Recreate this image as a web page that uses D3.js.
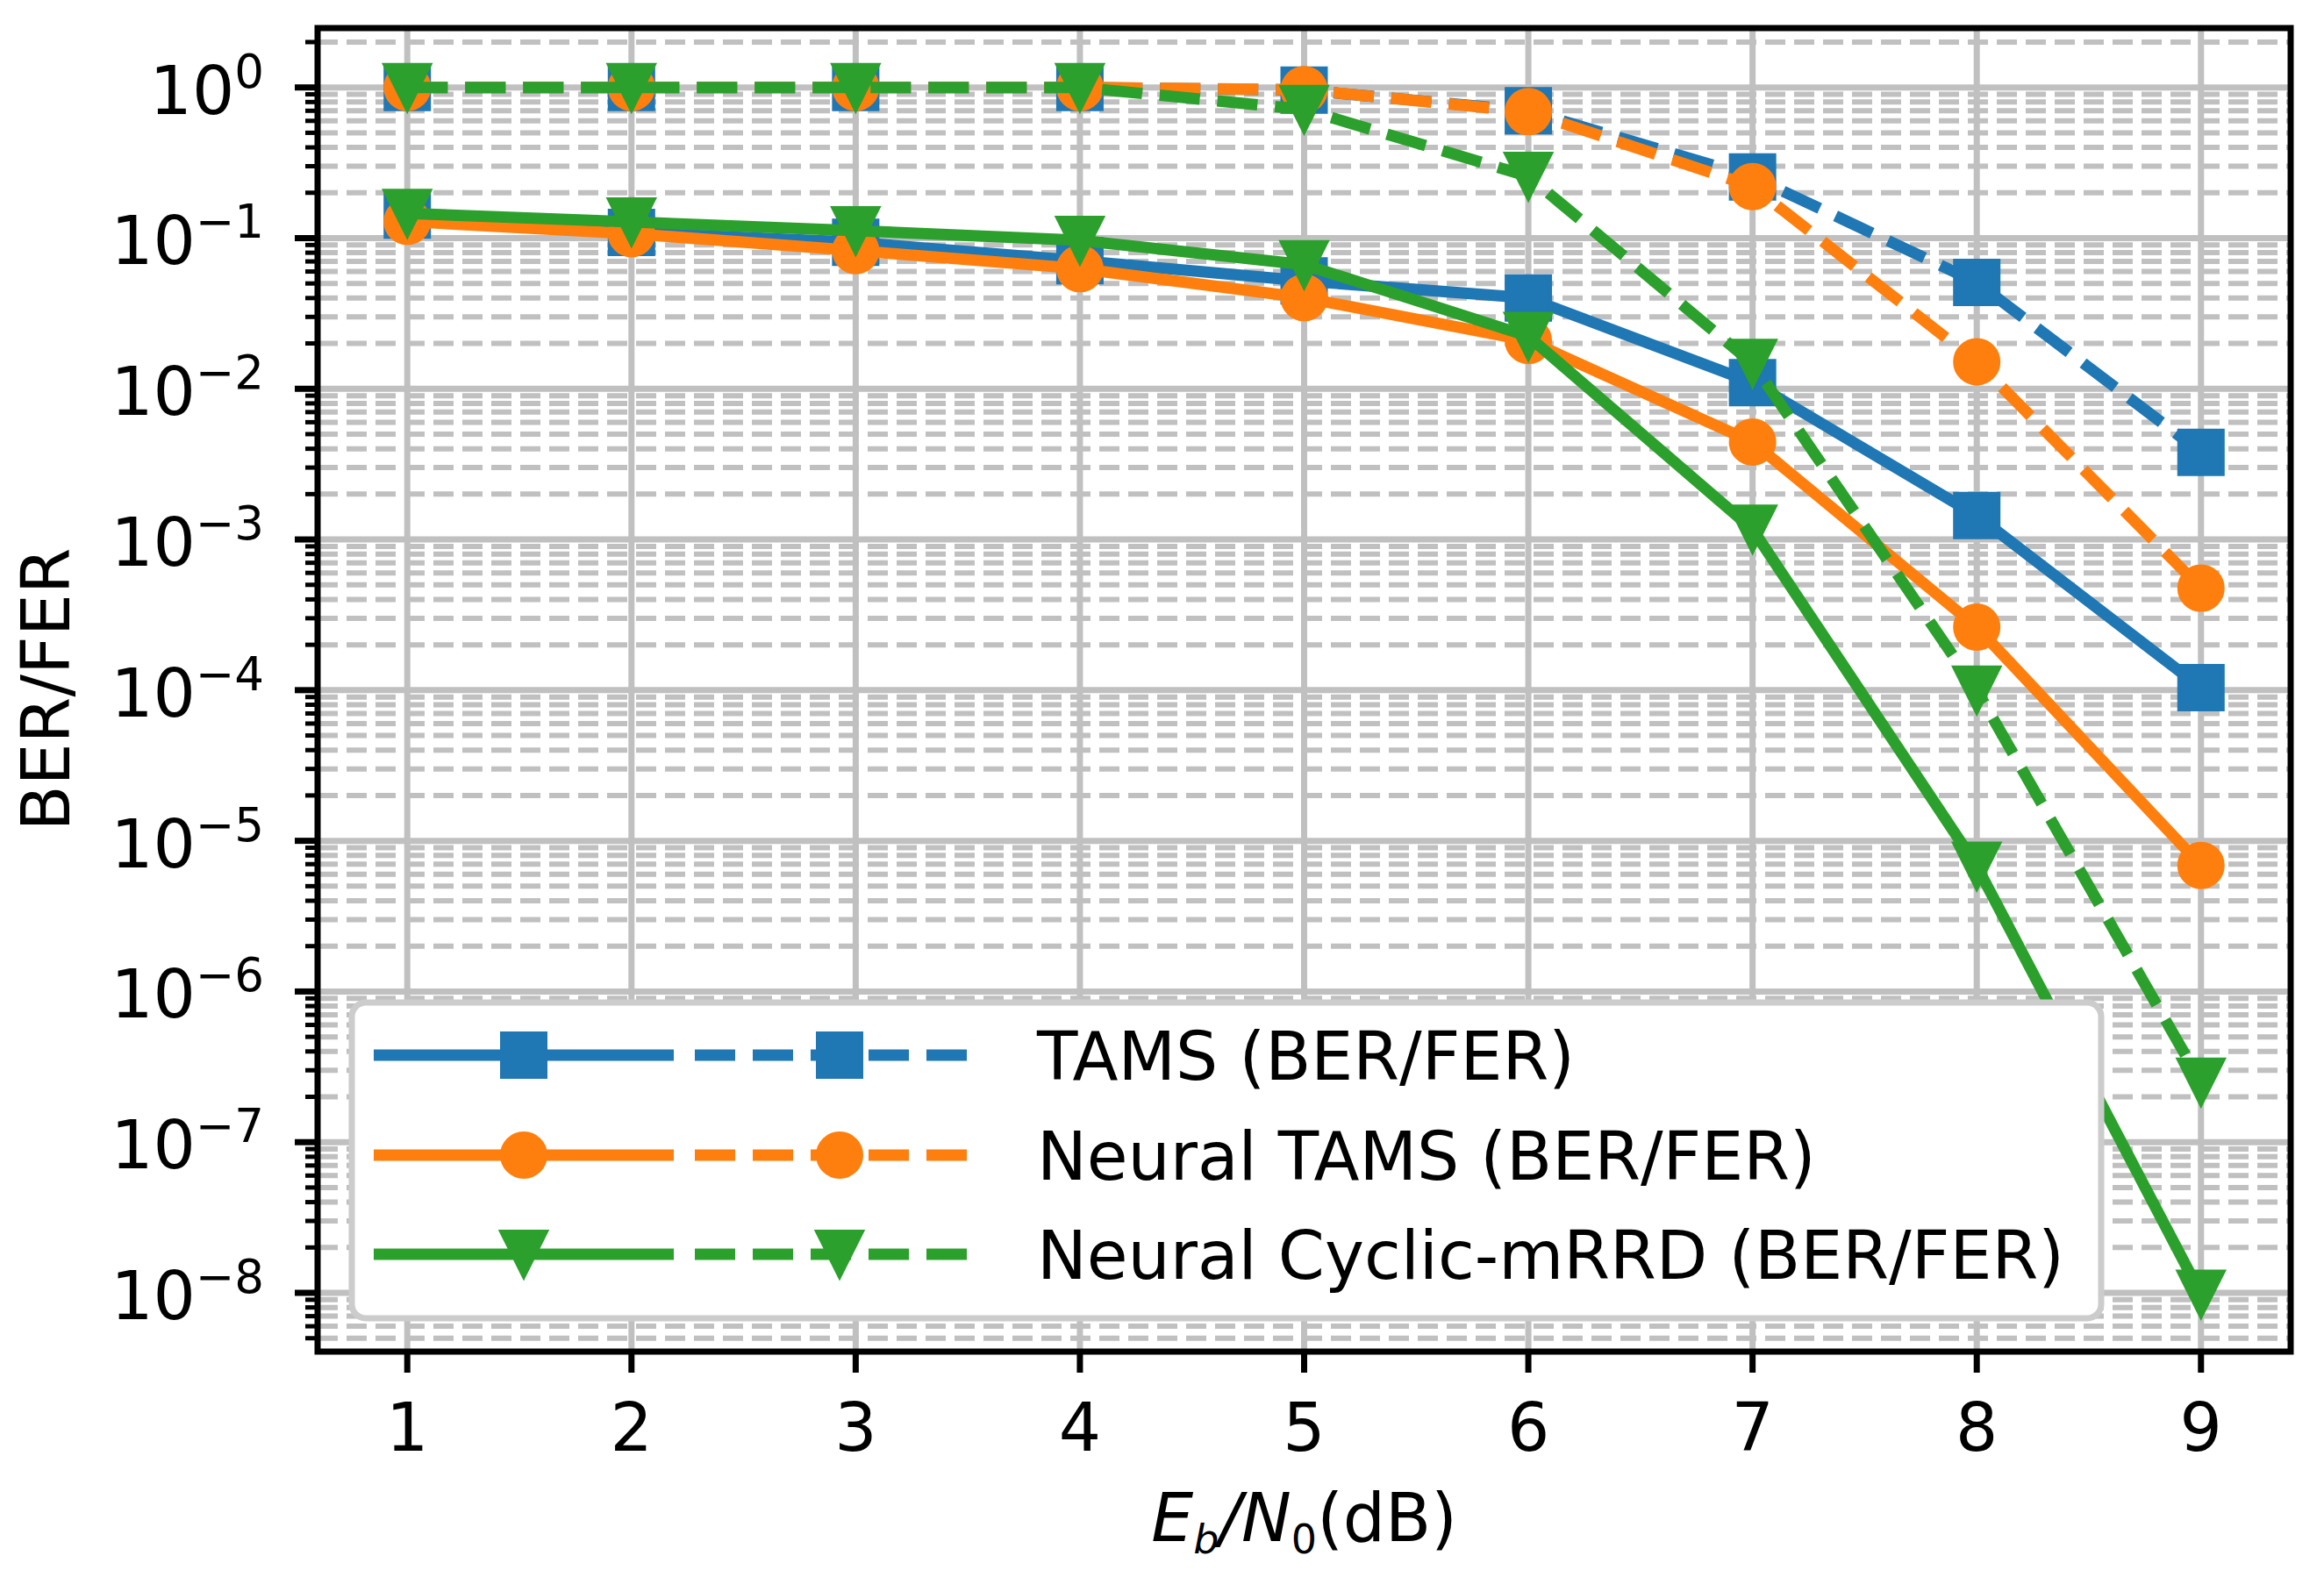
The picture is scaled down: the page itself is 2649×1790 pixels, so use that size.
<!DOCTYPE html>
<html>
<head>
<meta charset="utf-8">
<script src="https://cdnjs.cloudflare.com/ajax/libs/d3/7.8.5/d3.min.js"></script>
<style>
  body { margin: 0; background: #fff; }
  text { font-family: "DejaVu Sans", sans-serif; fill: #000; }
</style>
</head>
<body>
<div id="chart"></div>
<script>
const WIDTH = 2649;
const HEIGHT = 1790;
const LEFT = 362, RIGHT = 2611, TOP = 32, BOTTOM = 1541;
const LW = 13;

// data
var ebno = [1, 2, 3, 4, 5, 6, 7, 8, 9];
var tams_ber = [0.142, 0.109, 0.0937, 0.0707, 0.052, 0.040, 0.0110, 0.00144, 1.04e-4];
var tams_fer = [1.0, 1.0, 1.0, 1.0, 0.96, 0.70, 0.255, 0.0508, 0.00379];
var ntams_ber = [0.129, 0.107, 0.0826, 0.0627, 0.0402, 0.0209, 0.00443, 2.62e-4, 6.87e-6];
var ntams_fer = [1.0, 1.0, 1.0, 1.0, 0.965, 0.69, 0.22, 0.0151, 4.75e-4];
var cyc_ber = [0.146, 0.128, 0.112, 0.0967, 0.0667, 0.0223, 0.00117, 6.8e-6, 9.8e-9];
var cyc_fer = [1.0, 1.0, 1.0, 1.0, 0.715, 0.257, 0.01475, 1.0e-4, 2.5e-7];

var xTicks = [1, 2, 3, 4, 5, 6, 7, 8, 9];
var yTickExps = [0, -1, -2, -3, -4, -5, -6, -7, -8];
var legendLabels = ["TAMS (BER/FER)", "Neural TAMS (BER/FER)", "Neural Cyclic-mRRD (BER/FER)"];

var methods = [
  { ber: tams_ber, fer: tams_fer, color: "#1f77b4", marker: "square" },
  { ber: ntams_ber, fer: ntams_fer, color: "#ff7f0e", marker: "circle" },
  { ber: cyc_ber, fer: cyc_fer, color: "#2ca02c", marker: "triangle" }
];

var translate = function(x, y) { return "translate(" + x + "," + y + ")"; };

var markerPath = function(type) {
  if (type === "square") return "M-25,-25H25V25H-25Z";
  if (type === "circle") return "M25,0A25,25 0 1,1 -25,0A25,25 0 1,1 25,0Z";
  return "M-26,-26L26,-26L0,26Z";
};

var xScale = d3.scaleLinear().domain([0.6, 9.4]).range([LEFT, RIGHT]);
var yScale = d3.scaleLog().domain([Math.pow(10, -8.39), Math.pow(10, 0.394)]).range([BOTTOM, TOP]);

var svg = d3.select("#chart").append("svg")
  .attr("width", WIDTH).attr("height", HEIGHT);

// minor / major values on y
var minorVals = [];
for (var e = -9; e <= 0; e++)
  for (var m = 2; m <= 9; m++) {
    var v = m * Math.pow(10, e);
    if (v >= yScale.domain()[0] && v <= yScale.domain()[1]) minorVals.push(v);
  }
var majorVals = yTickExps.map(function(k) { return Math.pow(10, k); });

// grid
var grid = svg.append("g");
grid.selectAll(".minor").data(minorVals).enter().append("line")
  .attr("x1", LEFT).attr("x2", RIGHT)
  .attr("y1", function(d) { return yScale(d); }).attr("y2", function(d) { return yScale(d); })
  .attr("stroke", "#c0c0c0").attr("stroke-width", 6).attr("stroke-dasharray", "23,10");
grid.selectAll(".vmaj").data(xTicks).enter().append("line")
  .attr("x1", function(d) { return xScale(d); }).attr("x2", function(d) { return xScale(d); })
  .attr("y1", TOP).attr("y2", BOTTOM)
  .attr("stroke", "#c0c0c0").attr("stroke-width", 7);
grid.selectAll(".hmaj").data(majorVals).enter().append("line")
  .attr("x1", LEFT).attr("x2", RIGHT)
  .attr("y1", function(d) { return yScale(d); }).attr("y2", function(d) { return yScale(d); })
  .attr("stroke", "#c0c0c0").attr("stroke-width", 7);

// data
var line = d3.line()
  .x(function(d, i) { return xScale(ebno[i]); })
  .y(function(d) { return yScale(d); });

var plot = svg.append("g");
methods.forEach(function(mt) {
  [mt.ber, mt.fer].forEach(function(series, k) {
    plot.append("path")
      .attr("d", line(series))
      .attr("fill", "none")
      .attr("stroke", mt.color)
      .attr("stroke-width", LW)
      .attr("stroke-linejoin", "round")
      .attr("stroke-dasharray", k === 1 ? "46,20" : null);
    plot.selectAll(null).data(series).enter().append("path")
      .attr("d", markerPath(mt.marker))
      .attr("transform", function(d, i) { return translate(xScale(ebno[i]), yScale(d)); })
      .attr("fill", mt.color).attr("stroke", mt.color).attr("stroke-width", 4);
  });
});

// spines
svg.append("rect")
  .attr("x", LEFT).attr("y", TOP)
  .attr("width", RIGHT - LEFT).attr("height", BOTTOM - TOP)
  .attr("fill", "none").attr("stroke", "#000").attr("stroke-width", 7);

// y ticks
var axes = svg.append("g");
axes.selectAll(".ymin").data(minorVals).enter().append("line")
  .attr("x1", LEFT - 14).attr("x2", LEFT)
  .attr("y1", function(d) { return yScale(d); }).attr("y2", function(d) { return yScale(d); })
  .attr("stroke", "#000").attr("stroke-width", 5);
axes.selectAll(".ymaj").data(majorVals).enter().append("line")
  .attr("x1", LEFT - 26).attr("x2", LEFT)
  .attr("y1", function(d) { return yScale(d); }).attr("y2", function(d) { return yScale(d); })
  .attr("stroke", "#000").attr("stroke-width", 7);
var ylab = axes.selectAll(".ylab").data(yTickExps).enter().append("text")
  .attr("x", 301)
  .attr("y", function(d) { return yScale(Math.pow(10, d)) + 30; })
  .attr("text-anchor", "end")
  .style("font-size", "76px");
ylab.append("tspan").text("10");
ylab.append("tspan").attr("dy", -30).style("font-size", "53px")
  .text(function(d) { return d === 0 ? "0" : "\u2212" + (-d); });

// x ticks
axes.selectAll(".xt").data(xTicks).enter().append("line")
  .attr("x1", function(d) { return xScale(d); }).attr("x2", function(d) { return xScale(d); })
  .attr("y1", BOTTOM).attr("y2", BOTTOM + 24)
  .attr("stroke", "#000").attr("stroke-width", 7);
axes.selectAll(".xl").data(xTicks).enter().append("text")
  .attr("x", function(d) { return xScale(d); })
  .attr("y", 1654)
  .attr("text-anchor", "middle")
  .style("font-size", "76px")
  .text(function(d) { return d; });

// axis labels
var xl = svg.append("text")
  .attr("x", (LEFT + RIGHT) / 2).attr("y", 1757)
  .attr("text-anchor", "middle").style("font-size", "76px");
xl.append("tspan").style("font-style", "italic").text("E");
xl.append("tspan").style("font-style", "italic").style("font-size", "46px").attr("dy", 14).text("b");
xl.append("tspan").style("font-style", "italic").attr("dy", -14).text("/N");
xl.append("tspan").style("font-size", "46px").attr("dy", 14).text("0");
xl.append("tspan").attr("dy", -14).text("(dB)");

svg.append("text")
  .attr("transform", translate(79, 786) + " rotate(-90)")
  .attr("text-anchor", "middle").style("font-size", "76px")
  .text("BER/FER");

// legend
var legend = svg.append("g");
legend.append("rect")
  .attr("x", 401).attr("y", 1143).attr("width", 2395 - 401).attr("height", 1503 - 1143)
  .attr("rx", 16).attr("ry", 16)
  .attr("fill", "#fff").attr("stroke", "#cccccc").attr("stroke-width", 7);
var rowY = [1203, 1317, 1430];
methods.forEach(function(mt, i) {
  var g = legend.append("g").attr("transform", translate(0, rowY[i]));
  g.append("line").attr("x1", 426).attr("x2", 768).attr("y1", 0).attr("y2", 0)
    .attr("stroke", mt.color).attr("stroke-width", LW);
  g.append("line").attr("x1", 792).attr("x2", 1122).attr("y1", 0).attr("y2", 0)
    .attr("stroke", mt.color).attr("stroke-width", LW).attr("stroke-dasharray", "46,20");
  [597, 957].forEach(function(mx) {
    g.append("path").attr("d", markerPath(mt.marker)).attr("transform", translate(mx, 0))
      .attr("fill", mt.color).attr("stroke", mt.color).attr("stroke-width", 4);
  });
  g.append("text").attr("x", 1182).attr("y", 28).style("font-size", "76px").text(legendLabels[i]);
});
</script>
</body>
</html>
